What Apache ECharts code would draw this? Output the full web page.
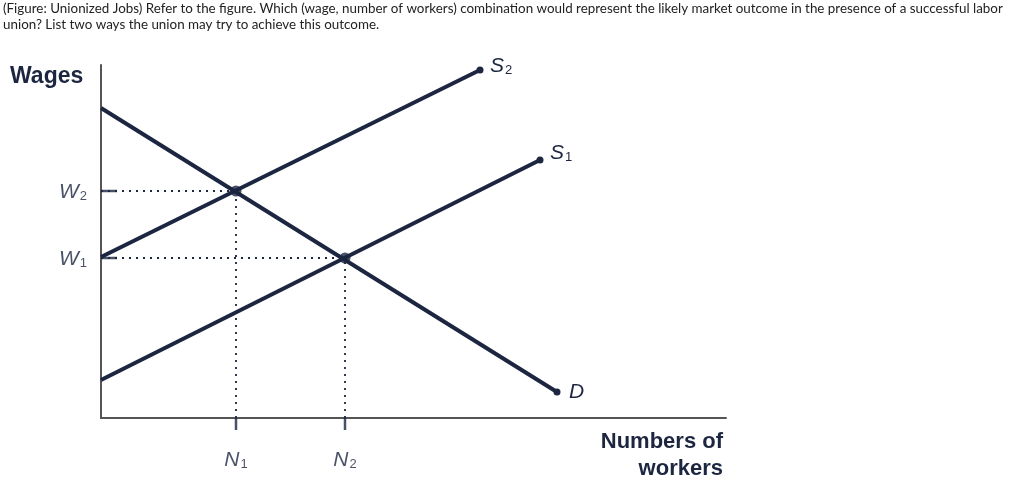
<!DOCTYPE html>
<html><head><meta charset="utf-8">
<script src="https://cdn.jsdelivr.net/npm/echarts@6/dist/echarts.min.js"></script>
<style>html,body{margin:0;background:#fff}#c{width:1024px;height:489px}</style>
</head><body><div id="c"></div>
<script>
const titleText = "(Figure: Unionized Jobs) Refer to the figure. Which (wage, number of workers) combination would represent the likely market outcome in the presence of a successful labor\nunion? List two ways the union may try to achieve this outcome.";
const demandD = [[0,310],[456,26]];
const supplyS1 = [[0,38],[439,258]];
const supplyS2 = [[0,161],[379,348]];
const xTicks = [{v:135,n:'1'},{v:244,n:'2'}];
const yTicks = [{v:227,n:'2'},{v:160,n:'1'}];
const eq = [[135,227],[244,160]];
const col = '#1c2640';
const chart = echarts.init(document.getElementById('c'));
const dotted = {color:col,type:[2,5],width:1.8};
const sub = {fontFamily:'Liberation Sans',fontSize:13,color:col,verticalAlign:'bottom',padding:[10,0,0,1]};
const main = {fontFamily:'Liberation Sans',fontStyle:'italic',fontSize:21,color:col,verticalAlign:'bottom'};
function lineSeries(d, lbl, pos){
  const data = d.map((p,i)=>i===d.length-1?{value:p,symbol:'circle',symbolSize:7}:{value:p,symbol:'none'});
  return {type:'line',data:data,showSymbol:true,
    lineStyle:{color:col,width:4},itemStyle:{color:col},
    endLabel:{show:true,formatter:lbl,offset:pos,rich:{m:main,s:sub}}};
}
chart.setOption({
  animation:false,
  grid:{left:101,right:298,top:65,bottom:71},
  xAxis:{type:'value',min:0,max:625,axisLine:{lineStyle:{color:'#555',width:2}},axisTick:{show:false},axisLabel:{show:false},splitLine:{show:false}},
  yAxis:{type:'value',min:0,max:353,axisLine:{show:true,lineStyle:{color:'#555',width:2}},axisTick:{show:false},axisLabel:{show:false},splitLine:{show:false}},
  graphic:[
    {type:'text',left:3,top:1,style:{text:titleText,font:'13.4px Lato',fill:'#222',lineHeight:16}},
    {type:'text',left:10,top:65,style:{text:'Wages',font:'bold 23px Liberation Sans',fill:col}},
    {type:'text',x:723,y:428,style:{text:'Numbers of\nworkers',font:'bold 22px Liberation Sans',fill:col,align:'right',lineHeight:27}}
  ],
  series:[
    lineSeries(demandD,'{m|D}',[4,0]),
    lineSeries(supplyS1,'{m|S}{s|1}',[2,-8]),
    lineSeries(supplyS2,'{m|S}{s|2}',[2,-5]),
    {type:'scatter',data:eq,symbolSize:11,itemStyle:{color:col},z:5,
     markLine:{silent:true,symbol:'none',label:{show:false},lineStyle:dotted,
       data:[
        [{coord:[0,227]},{coord:[135,227]}],[{coord:[0,160]},{coord:[244,160]}],
        [{coord:[135,0]},{coord:[135,227]}],[{coord:[244,0]},{coord:[244,160]}]
       ]}},
    {type:'scatter',data:yTicks.map(t=>[0,t.v,t.n]),symbol:'rect',symbolSize:[16,2.5],symbolOffset:[8,0],itemStyle:{color:col},
     label:{show:true,position:'left',distance:14,formatter:p=>'{m|W}{s|'+p.data[2]+'}',rich:{m:main,s:sub}}},
    {type:'scatter',data:xTicks.map(t=>[t.v,0,t.n]),symbol:'rect',symbolSize:[2.5,12],symbolOffset:[0,6],itemStyle:{color:col},
     label:{show:true,position:'bottom',distance:18,formatter:p=>'{m|N}{s|'+p.data[2]+'}',rich:{m:main,s:sub}}}
  ]
});
</script></body></html>
